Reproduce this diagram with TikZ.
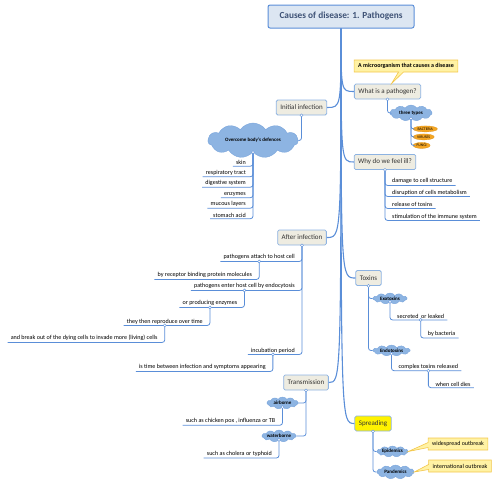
\documentclass[tikz,border=0pt]{standalone}
\usepackage{fontspec}
\setmainfont{Carlito}
\usetikzlibrary{shapes.geometric, shapes.symbols, shapes.callouts, positioning, calc}

\definecolor{branch}{HTML}{5A8ED8}
\definecolor{rootfill}{HTML}{DCE6F2}
\definecolor{roottext}{HTML}{3E5276}
\definecolor{topicfill}{HTML}{EEECE1}
\definecolor{topicline}{HTML}{8DB3E2}
\definecolor{cloudfill}{HTML}{8DB4E2}
\definecolor{cloudline}{HTML}{7AA5DC}
\definecolor{notefill}{HTML}{FFF2A4}
\definecolor{noteline}{HTML}{F3C64A}
\definecolor{typefill}{HTML}{F5A623}

\tikzset{
  trunk/.style={draw=branch, line width=1.1pt},
  twig/.style={draw=branch, line width=0.8pt, rounded corners=2.5pt},
  root/.style={draw=branch, line width=1pt, fill=rootfill, rounded corners=2pt,
    minimum width=146pt, minimum height=23pt, text=roottext,
    font=\fontsize{9.3}{11}\selectfont\bfseries},
  topic/.style={draw=topicline, line width=0.8pt, fill=topicfill, rounded corners=1.5pt,
    minimum height=15pt, inner xsep=4pt, text=black!80, font=\fontsize{7}{8}\selectfont},
  puff/.style={cloud, cloud puffs=11, cloud puff arc=110, cloud ignores aspect,
    draw=cloudline, fill=cloudfill, inner sep=0pt, font=\fontsize{5}{6}\selectfont\bfseries},
  leaf/.style={inner xsep=3pt, inner ysep=1.2pt, font=\fontsize{6.1}{7}\selectfont},
  kind/.style={ellipse, fill=typefill, draw=typefill!90!black, line width=0.3pt,
    inner xsep=1pt, inner ysep=0pt, minimum height=6pt, font=\fontsize{3.8}{4}\selectfont},
  note/.style={rectangle callout, draw=noteline, fill=notefill, line width=0.6pt,
    callout pointer width=5pt, minimum height=12pt, inner xsep=4pt,
    font=\fontsize{6}{7}\selectfont},
  knob/.style={circle, draw=branch, fill=white, line width=0.4pt, inner sep=0pt, minimum size=3pt},
}

\begin{document}
\begin{tikzpicture}[x=1pt, y=1pt]
  \useasboundingbox (0,0) rectangle (500,-485);

  % central topic and main branches
  \node[root] (root) at (341,-16.5) {Causes of disease: 1. Pathogens};
  \node[topic] (what) at (387.5,-91.5) {What is a pathogen?};
  \node[topic] (init) at (301.5,-107.5) {Initial infection};
  \node[topic] (ill) at (385,-162) {Why do we feel ill?};
  \node[topic] (after) at (302,-237.5) {After infection};
  \node[topic] (tox) at (368.5,-278) {Toxins};
  \node[topic] (trans) at (306,-382.5) {Transmission};
  \node[topic, fill=yellow] (spread) at (373,-423.5) {Spreading};

  \foreach \t/\a in {what/west, ill/west, tox/west, spread/west, init/east, after/east, trans/east}
    \draw[trunk] (root.south) .. controls (root.south |- \t.\a) and (root.south |- \t.\a) .. (\t.\a);

  % what is a pathogen
  \coordinate (tipA) at ($(what.north)+(4,0)$);
  \node[note, font=\fontsize{6}{7}\selectfont\bfseries, callout absolute pointer=(tipA)] (meaning) at (406,-66) {A microorganism that causes a disease};
  \node[puff, minimum width=42pt, minimum height=16pt] (three) at (411,-113) {three types};
  \node[kind, anchor=west] (bact) at ($(three.south)+(2,-10.5)$) {BACTERIA};
  \node[kind, anchor=west] (vir) at ($(three.south)+(2,-18.5)$) {VIRUSES};
  \node[kind, anchor=west] (fungi) at ($(three.south)+(2,-27)$) {FUNGI};
  \draw[twig] (what.south) |- (three.west);
  \foreach \c in {bact, vir, fungi}
    \draw[twig] (three.south) |- (\c.west);

  % initial infection
  \node[puff, minimum width=90pt, minimum height=35pt] (def) at (253,-140.5) {Overcome body’s defences};
  \draw[twig] (init.south) |- (def.east);
  \node[leaf, anchor=south east] (skin) at ($(def.south)+(-4,-14)$) {skin};
  \node[leaf, anchor=south east] (resp) at ($(def.south)+(-4,-24.5)$) {respiratory tract};
  \node[leaf, anchor=south east] (dig) at ($(def.south)+(-4,-35)$) {digestive system};
  \node[leaf, anchor=south east] (enz) at ($(def.south)+(-4,-45.5)$) {enzymes};
  \node[leaf, anchor=south east] (muc) at ($(def.south)+(-4,-56)$) {mucous layers};
  \node[leaf, anchor=south east] (acid) at ($(def.south)+(-4,-66.5)$) {stomach acid};
  \foreach \c in {skin, resp, dig, enz, muc, acid}
    \draw[twig] (def.south) |- (\c.south west);

  % why do we feel ill
  \node[leaf, anchor=south west] (ill1) at ($(ill.south)+(4,-15.5)$) {damage to cell structure};
  \node[leaf, anchor=south west] (ill2) at ($(ill.south)+(4,-26.5)$) {disruption of cells metabolism};
  \node[leaf, anchor=south west] (ill3) at ($(ill.south)+(4,-38.5)$) {release of tosins};
  \node[leaf, anchor=south west] (ill4) at ($(ill.south)+(4,-50.5)$) {stimulation of the immune system};
  \foreach \c in {ill1, ill2, ill3, ill4}
    \draw[twig] (ill.south) |- (\c.south east);

  % after infection
  \node[leaf, anchor=south east] (att) at ($(after.south)+(-4,-16)$) {pathogens attach to host cell};
  \node[leaf, anchor=south east] (rec) at ($(att.south)+(-4,-18)$) {by receptor binding protein molecules};
  \node[leaf, anchor=south east] (enter) at ($(after.south)+(-4,-45)$) {pathogens enter host cell by endocytosis};
  \node[leaf, anchor=south east] (prod) at ($(enter.south)+(-4,-17)$) {or producing enzymes};
  \node[leaf, anchor=south east] (rep) at ($(prod.south)+(-4,-18)$) {they then reproduce over time};
  \node[leaf, anchor=south east] (brk) at ($(rep.south)+(-4,-17)$) {and break out of the dying cells to invade more (living) cells};
  \node[leaf, anchor=south east] (inc) at ($(after.south)+(-4,-109)$) {incubation period};
  \node[leaf, anchor=south east] (betw) at ($(inc.south)+(-4,-17)$) {is time between infection and symptoms appearing};
  \foreach \c in {att, enter, inc}
    \draw[twig] (after.south) |- (\c.south west);
  \foreach \p/\c in {att/rec, enter/prod, prod/rep, rep/brk, inc/betw}
    \draw[twig] (\p.south) |- (\c.south west);

  % toxins
  \node[puff, minimum width=34pt, minimum height=11pt] (exo) at (390,-298.5) {Exotoxins};
  \node[puff, minimum width=37pt, minimum height=11pt] (endo) at (391.5,-350.5) {Endotoxins};
  \node[leaf, anchor=south west] (sec) at ($(exo.south)+(4,-18)$) {secreted\ \ or leaked};
  \node[leaf, anchor=south west] (bybac) at ($(sec.south)+(4,-18)$) {by bacteria};
  \node[leaf, anchor=south west] (cpx) at ($(endo.south)+(4,-17)$) {complex toxins released};
  \node[leaf, anchor=south west] (dies) at ($(cpx.south)+(4,-17)$) {when cell dies};
  \foreach \c in {exo, endo}
    \draw[twig] (tox.south) |- (\c.west);
  \foreach \p/\c in {exo/sec, sec/bybac, endo/cpx, cpx/dies}
    \draw[twig] (\p.south) |- (\c.south east);

  % transmission
  \node[puff, minimum width=31pt, minimum height=12pt] (air) at (282.5,-403) {airborne};
  \node[puff, minimum width=34pt, minimum height=12pt] (water) at (279,-436) {waterborne};
  \node[leaf, anchor=south east] (chick) at ($(air.south)+(-4,-18)$) {such as chicken pox , influenza or TB};
  \node[leaf, anchor=south east] (chol) at ($(water.south)+(-4,-18)$) {such as cholera or typhoid};
  \foreach \c in {air, water}
    \draw[twig] (trans.south) |- (\c.east);
  \foreach \p/\c in {air/chick, water/chol}
    \draw[twig] (\p.south) |- (\c.south west);

  % spreading
  \node[puff, minimum width=31pt, minimum height=11pt] (epi) at (392.5,-451.5) {Epidemics};
  \node[puff, minimum width=37pt, minimum height=14pt] (pan) at (395.5,-472) {Pandemics};
  \foreach \c in {epi, pan}
    \draw[twig] (spread.south) |- (\c.west);
  \node[note, callout absolute pointer=(epi.east)] (wide) at (458,-444) {widespread outbreak};
  \node[note, callout absolute pointer=(pan.east)] (intl) at (460,-466) {international outbreak};

  % collapse knobs
  \foreach \n in {what, three, init, def, ill, after, att, enter, prod, rep, inc,
                  tox, exo, sec, endo, cpx, trans, air, water, spread}
    \node[knob] (\n-k) at (\n.south) {};
\end{tikzpicture}
\end{document}
